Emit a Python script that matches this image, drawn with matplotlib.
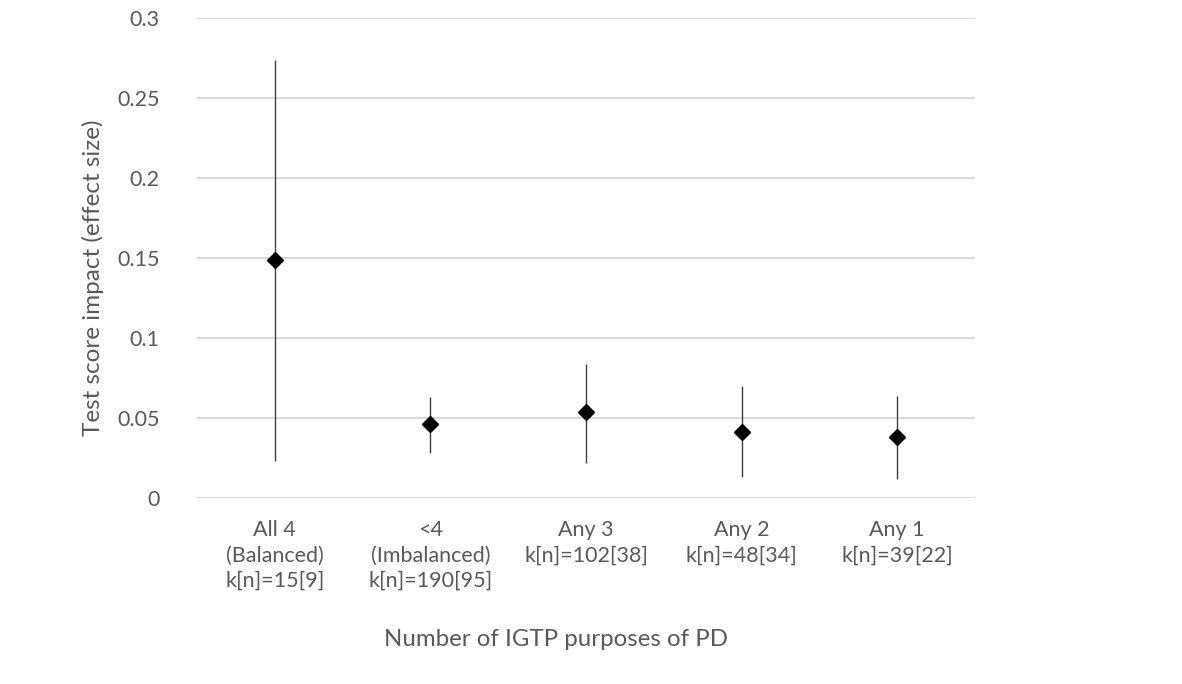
import matplotlib
matplotlib.use("Agg")
import matplotlib.pyplot as plt
import numpy as np

plt.rcParams['font.family'] = ['Lato', 'DejaVu Sans']

categories = ['All 4\n(Balanced)\nk[n]=15[9]',
              '<4\n(Imbalanced)\nk[n]=190[95]',
              'Any 3\nk[n]=102[38]',
              'Any 2\nk[n]=48[34]',
              'Any 1\nk[n]=39[22]']
effect = [0.149, 0.046, 0.054, 0.041, 0.038]
upper = [0.274, 0.063, 0.084, 0.070, 0.064]
lower = [0.023, 0.028, 0.022, 0.013, 0.012]

grey = '#595959'

fig = plt.figure(figsize=(11.82, 6.84), dpi=100)
ax = fig.add_axes([0.1667, 0.2719, 0.6582, 0.7018])

x = np.arange(len(categories))
eff = np.array(effect)
yerr = [eff - np.array(lower), np.array(upper) - eff]
ax.errorbar(x, eff, yerr=yerr, fmt='D', color='black', markersize=8,
            ecolor='#404040', elinewidth=1, capsize=0, zorder=3)

ax.set_xlim(-0.5, 4.5)
ax.set_ylim(0, 0.3)
ax.set_yticks([0, 0.05, 0.1, 0.15, 0.2, 0.25, 0.3])
ax.set_yticklabels(['0', '0.05', '0.1', '0.15', '0.2', '0.25', '0.3'])
ax.set_xticks(x)
ax.set_xticklabels(categories, linespacing=1.33)
ax.grid(axis='y', color='#d9d9d9', linewidth=1.5, zorder=0)
ax.set_axisbelow(True)
for s in ax.spines.values():
    s.set_visible(False)
ax.tick_params(axis='both', length=0, labelsize=15.5, colors=grey)
ax.tick_params(axis='y', pad=27)
ax.tick_params(axis='x', pad=16)

fig.text(556 / 1182, 1 - 640 / 684, 'Number of IGTP purposes of PD',
         ha='center', va='center', fontsize=17.3, color=grey)
fig.text(93 / 1182, 1 - 278 / 684, 'Test score impact (effect size)',
         ha='center', va='center', rotation=90, fontsize=17.5, color=grey)

fig.savefig('out.png', dpi=100)
